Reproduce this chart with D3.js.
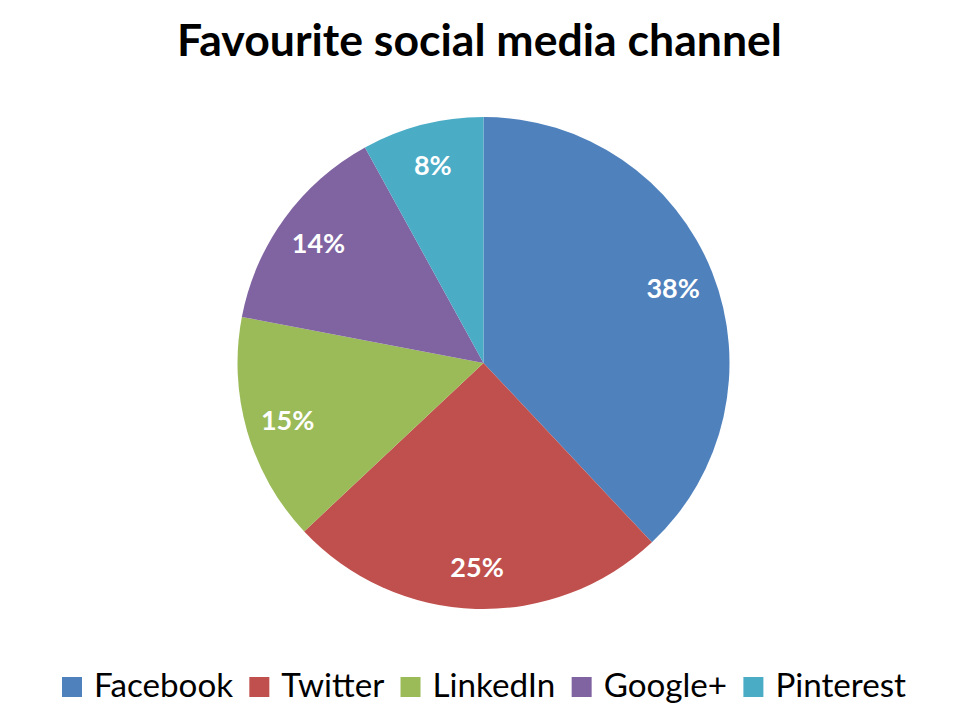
<!DOCTYPE html>
<html>
<head>
<meta charset="utf-8">
<script src="https://cdn.jsdelivr.net/npm/d3@7"></script>
<style>
  html, body { margin: 0; padding: 0; background: #ffffff; }
  svg { display: block; }
</style>
</head>
<body>
<svg id="chart" width="960" height="720"></svg>
<script>
const title = "Favourite social media channel";
const categories = ["Facebook", "Twitter", "LinkedIn", "Google+", "Pinterest"];
const shares = [38, 25, 15, 14, 8];
const colors = ["#4F81BD", "#C0504D", "#9BBB59", "#8064A2", "#4BACC6"];

const W = 960, H = 720;
const cx = 483.5, cy = 363, R = 246, labelR = 204;
const FONT = "Lato, 'Open Sans', 'DejaVu Sans', sans-serif";

const svg = d3.select("#chart");

// Title: fit to target width
const titleEl = svg.append("text")
  .attr("x", 479.5).attr("y", 56)
  .attr("text-anchor", "middle")
  .attr("font-family", FONT)
  .attr("font-weight", "bold")
  .attr("font-size", 36)
  .attr("fill", "#000")
  .text(title);
{
  const w = titleEl.node().getComputedTextLength();
  const fs = 36 * 605 / w;
  titleEl.attr("font-size", fs);
}

// Pie
const pie = d3.pie().sort(null).value(d => d.v);
const data = pie(categories.map((c, i) => ({ c, v: shares[i], col: colors[i] })));
const arc = d3.arc().innerRadius(0).outerRadius(R);
const labelArc = d3.arc().innerRadius(labelR).outerRadius(labelR);

const g = svg.append("g").attr("transform", `translate(${cx},${cy})`);
g.selectAll("path.slice").data(data).enter().append("path")
  .attr("class", "slice")
  .attr("d", arc)
  .attr("fill", d => d.data.col);

g.selectAll("text.lbl").data(data).enter().append("text")
  .attr("class", "lbl")
  .attr("transform", d => `translate(${labelArc.centroid(d)})`)
  .attr("text-anchor", "middle")
  .attr("dy", "0.36em")
  .attr("font-family", FONT)
  .attr("font-weight", "bold")
  .attr("font-size", 27)
  .attr("fill", "#ffffff")
  .text(d => d.data.v + "%");

// Legend
const leg = svg.append("g");
const items = leg.selectAll("g.item").data(categories).enter().append("g").attr("class", "item");
const sw = 20, swGap = 12;
items.append("rect")
  .attr("width", sw).attr("height", sw)
  .attr("y", 677)
  .attr("fill", (d, i) => colors[i]);
const texts = items.append("text")
  .attr("y", 697)
  .attr("font-family", FONT)
  .attr("font-size", 30)
  .attr("fill", "#000")
  .text(d => d);
let sum = 0;
texts.each(function () { sum += this.getComputedTextLength(); });
const legFs = 30 * 619 / sum;
texts.attr("font-size", legFs);
const widths = [];
texts.each(function () { widths.push(this.getComputedTextLength()); });
const totalTarget = 844;
const itemGap = (totalTarget - d3.sum(widths) - categories.length * (sw + swGap)) / (categories.length - 1);
let x = 62;
items.each(function (d, i) {
  const it = d3.select(this);
  it.select("rect").attr("x", x);
  it.select("text").attr("x", x + sw + swGap);
  x += sw + swGap + widths[i] + itemGap;
});
</script>
</body>
</html>
